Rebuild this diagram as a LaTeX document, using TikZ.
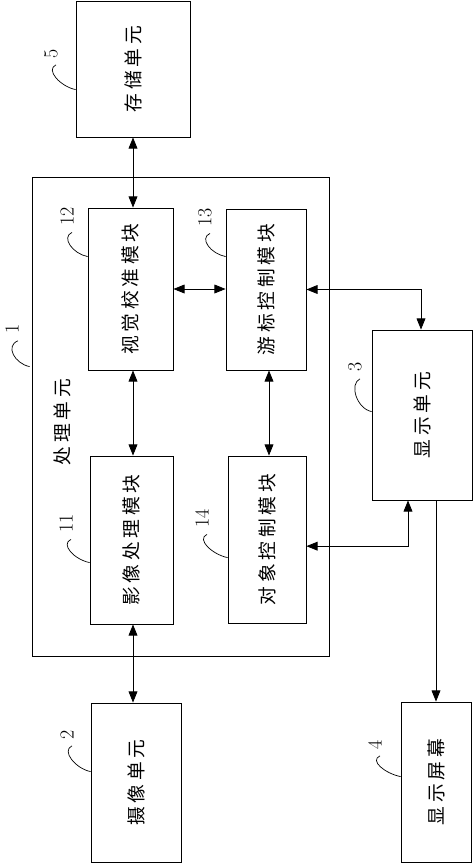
\documentclass[tikz,border=0pt]{standalone}
\usepackage{fontspec}
\usepackage{graphicx}
\newfontfamily\cjk[LetterSpace=20]{Noto Sans CJK SC}
\usetikzlibrary{arrows.meta}
\usetikzlibrary{calc}
\tikzset{>={Triangle[length=9.5pt,width=7.5pt]}}

\begin{document}
\begin{tikzpicture}[x=0.03cm, y=-0.03cm]
    \tikzset{unit/.style={draw, line width=0.7pt, inner sep=0pt, font={\cjk\fontsize{16}{18}\selectfont}}};
    \tikzset{refnum/.style={inner sep=0pt, font={\fontsize{17}{19}\selectfont}}};
    \tikzset{link/.style={<->, line width=0.7pt}};
    \tikzset{leader/.style={line width=0.6pt}};
    \useasboundingbox (0, 0) rectangle (474, 863);
    % Processing unit and its modules
    \node[unit, minimum width=8.91cm, minimum height=14.37cm] (proc) at (180.5, 416.5) {};
    \node[unit, draw=none] (proclabel) at (62, 422) {\rotatebox{90}{处理单元}};
    \node[unit, minimum width=2.55cm, minimum height=4.86cm] (cal) at (130.5, 289) {\rotatebox{90}{视觉校准模块}};
    \node[unit, minimum width=2.4cm, minimum height=4.83cm] (cur) at (266, 289.5) {\rotatebox{90}{游标控制模块}};
    \node[unit, minimum width=2.49cm, minimum height=5.04cm] (img) at (131.5, 540) {\rotatebox{90}{影像处理模块}};
    \node[unit, minimum width=2.34cm, minimum height=5.01cm] (obj) at (267, 539.5) {\rotatebox{90}{对象控制模块}};
    % Outer units
    \node[unit, minimum width=3.42cm, minimum height=4.08cm] (store) at (133, 69) {\rotatebox{90}{存储单元}};
    \node[unit, minimum width=2.7cm, minimum height=4.77cm] (cam) at (136, 782.5) {\rotatebox{90}{摄像单元}};
    \node[unit, minimum width=3cm, minimum height=5.1cm] (disp) at (422, 415) {\rotatebox{90}{显示单元}};
    \node[unit, minimum width=2.1cm, minimum height=4.8cm] (scr) at (436, 782) {\rotatebox{90}{显示屏幕}};
    % Reference numbers
    \node[refnum] (n1) at (12, 329) {\rotatebox{90}{1}};
    \node[refnum] (n2) at (67, 735) {\rotatebox{90}{2}};
    \node[refnum] (n3) at (355, 367) {\rotatebox{90}{3}};
    \node[refnum] (n4) at (375, 745) {\rotatebox{90}{4}};
    \node[refnum] (n5) at (51, 54) {\rotatebox{90}{5}};
    \node[refnum] (n11) at (66, 523) {\rotatebox{90}{11}};
    \node[refnum] (n12) at (67, 216) {\rotatebox{90}{12}};
    \node[refnum] (n13) at (205, 217) {\rotatebox{90}{13}};
    \node[refnum] (n14) at (202, 518) {\rotatebox{90}{14}};
    % Leaders
    \draw[leader] ($(n1.south)+(6,7)$) .. controls +(-13,5) and +(-15,-3) .. ($(proc.north west)+(-2,190)$);
    \draw[leader] ($(n2.south)+(5,6)$) .. controls +(-11,5) and +(-15,-3) .. ($(cam.north west)+(0,69)$);
    \draw[leader] ($(n3.south)+(5,7)$) .. controls +(-11,5) and +(-15,-3) .. ($(disp.north west)+(0,82)$);
    \draw[leader] ($(n4.south)+(5,6)$) .. controls +(-11,5) and +(-15,-3) .. ($(scr.north west)+(0,75)$);
    \draw[leader] ($(n5.south)+(5,6)$) .. controls +(-11,5) and +(-15,-3) .. ($(store.north west)+(0,89)$);
    \draw[leader] ($(n11.south)+(5,7)$) .. controls +(-11,5) and +(-15,-3) .. ($(img.north west)+(0,107)$);
    \draw[leader] ($(n12.south)+(5,7)$) .. controls +(-11,5) and +(-15,-3) .. ($(cal.north west)+(0,49)$);
    \draw[leader] ($(n13.south)+(5,7)$) .. controls +(-11,5) and +(-15,-3) .. ($(cur.north west)+(0,48)$);
    \draw[leader] ($(n14.south)+(5,7)$) .. controls +(-11,5) and +(-15,-3) .. ($(obj.north west)+(0,102)$);
    % Connections
    \draw[link] (store.south) -- (store.south |- cal.north);
    \draw[link] (cal.south -| store.south) -- (store.south |- img.north);
    \draw[link] (img.south -| store.south) -- (store.south |- cam.north);
    \draw[link] (cal.east) -- (cal.east -| cur.west);
    \draw[link] ([xshift=0.09cm]cur.south) -- ([xshift=0.09cm]cur.south |- obj.north);
    \draw[link] (cur.east) -| ([xshift=-0.03cm]disp.north);
    \draw[link] ([yshift=-0.2cm]obj.east) -| ([xshift=-0.42cm]disp.south);
    \draw[->, line width=0.7pt] (disp.south -| scr.north) -- (scr.north);
\end{tikzpicture}
\end{document}
